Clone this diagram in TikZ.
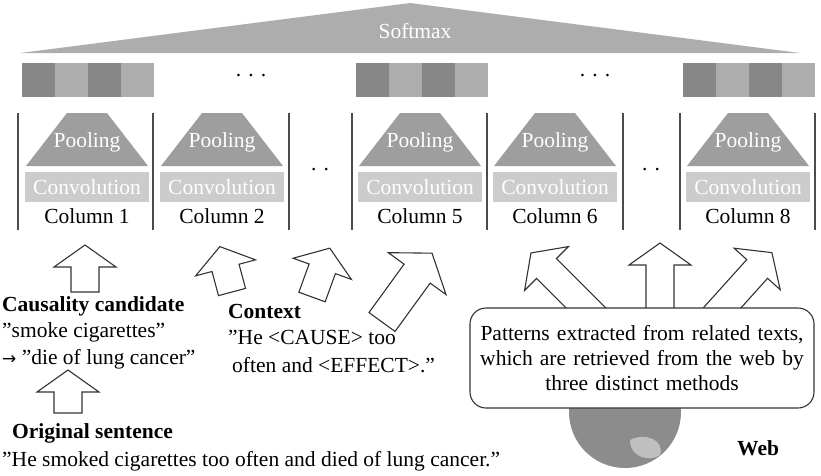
\documentclass[tikz,border=0pt]{standalone}
\usepackage{fontspec}
\setmainfont{Liberation Serif}
\usepackage{tikz}
\definecolor{darkcell}{gray}{0.53}
\definecolor{lightcell}{gray}{0.68}
\definecolor{poolgray}{gray}{0.62}
\definecolor{convgray}{gray}{0.8}
\newcommand{\qq}{\symbol{34}}
\newcommand{\bigarrow}[5]{% base, rotation, length, scale, name
  \begin{scope}[shift={#1},rotate=#2,scale=#4]
    \draw[arrow_style] (-14,0) -- (-14,{-#3+22}) -- (-31,{-#3+22}) -- (0,-#3)
      -- (31,{-#3+22}) -- (14,{-#3+22}) -- (14,0) -- cycle;
    \coordinate (#5) at (0,-#3);
  \end{scope}}
\begin{document}
\begin{tikzpicture}[x=1pt,y=-1pt,line join=miter,
    txt_style/.style={font=\fontsize{21.5}{25}\selectfont,inner sep=0pt},
    bold_style/.style={txt_style,font=\fontsize{21.5}{25}\selectfont\bfseries},
    arrow_style/.style={draw=black!80,line width=1.1pt,fill=white},
    sep_style/.style={draw=black!70,line width=1.2pt}]
  \useasboundingbox (0,0) rectangle (821,475);

  % softmax
  \fill[lightcell] (20,53) -- (410,3) -- (800,53) -- cycle;
  \node[txt_style,text=white] (soft) at (415,31) {Softmax};

  % output bars
  \foreach \bx in {22,356,683} {
    \fill[darkcell] (\bx,63) rectangle ++(33,34);
    \fill[lightcell] (\bx+33,63) rectangle ++(33,34);
    \fill[darkcell] (\bx+66,63) rectangle ++(33,34);
    \fill[lightcell] (\bx+99,63) rectangle ++(33,34);
  }
  \node[txt_style] (dots1) at (251,76) {.\,\,.\,\,.};
  \node[txt_style] (dots2) at (595,76) {.\,\,.\,\,.};

  % separators
  \foreach \sx in {18,153,289,352,487,623,680,815}
    \draw[sep_style] (\sx,113) -- (\sx,230);

  % columns
  \foreach \cx/\lab in {87/1,222/2,420/5,555/6,748/8} {
    \fill[poolgray] (\cx-20,113) -- (\cx+20,113) -- (\cx+61,166) -- (\cx-61,166) -- cycle;
    \node[txt_style,text=white] (pool\lab) at (\cx,142) {Pooling};
    \fill[convgray] (\cx-62,172) rectangle (\cx+62,202);
    \node[txt_style,text=white] (conv\lab) at (\cx,187) {Convolution};
    \node[txt_style] (col\lab) at (\cx,216) {Column \lab};
  }
  \node[txt_style] (gap1) at (320,170) {.\,\,.};
  \node[txt_style] (gap2) at (651,170) {.\,\,.};

  % input arrows
  \bigarrow{(85,292)}{0}{47}{1}{tipA}
  \bigarrow{(232,292)}{15}{47}{1}{tipB}
  \bigarrow{(312,297)}{-20}{52}{1}{tipC}
  \bigarrow{(382,322)}{-36}{74}{1.15}{tipD}
  \bigarrow{(68,413)}{0}{43}{1}{tipE}
  \bigarrow{(596,318)}{45}{92}{1}{tipF}
  \bigarrow{(660,318)}{0}{75}{1}{tipG}
  \bigarrow{(713,318)}{-42}{88}{1}{tipH}

  % inputs
  \node[bold_style,anchor=base west] (cand) at (2,311) {Causality candidate};
  \node[txt_style,anchor=base west] (cand1) at (2,337) {\qq smoke cigarettes\qq};
  \node[txt_style,anchor=base west] (cand2) at (2,364) {{\fontspec{DejaVu Sans}\fontsize{17}{20}\selectfont→} \qq die of lung cancer\qq};
  \node[bold_style,anchor=base west] (ctx) at (228,318) {Context};
  \node[txt_style,anchor=base west] (ctx1) at (228,344) {\qq He <CAUSE> too};
  \node[txt_style,anchor=base west] (ctx2) at (232,372) {often and <EFFECT>.\qq};
  \node[bold_style,anchor=base west] (orig) at (12,438) {Original sentence};
  \node[txt_style,anchor=base west] (orig1) at (2,466) {\qq He smoked cigarettes too often and died of lung cancer.\qq};

  % web
  \fill[black!45] (625,412) circle (56);
  \fill[black!25] (630,440) .. controls (645,432) and (665,440) .. (660,455)
    .. controls (650,462) and (630,458) .. cycle;
  \node[bold_style,anchor=base west] (web) at (737,455) {Web};
  \node[txt_style,draw=black!80,line width=1.1pt,fill=white,rounded corners=16pt,
    minimum width=344pt,minimum height=100pt,align=center,text width=335pt]
    (pat) at (642,358) {Patterns extracted from related texts,\\ which are retrieved from the web by\\ three distinct methods};
\end{tikzpicture}
\end{document}
